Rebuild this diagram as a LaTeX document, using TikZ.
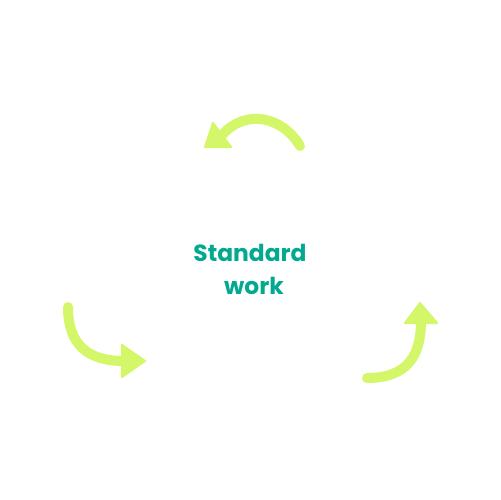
\documentclass[tikz,border=0pt]{standalone}
\usepackage{fontspec}
\setmainfont{Poppins}
\definecolor{lime}{HTML}{D4F76A}
\definecolor{teal}{HTML}{00A98F}
\begin{document}
\begin{tikzpicture}[x=0.02cm,y=-0.02cm,
  shaft/.style={draw=lime,line width=0.2cm,line cap=round},
  head/.style={fill=lime,draw=lime,line width=1.2pt,line join=round},
  label/.style={text=teal,font=\fontsize{13.3}{18}\selectfont\bfseries,inner sep=0pt,anchor=base}]
\useasboundingbox (0,0) rectangle (500,500);
% top arrow
\coordinate (t1) at (300,146);
\coordinate (t2) at (222,135);
\draw[shaft] (t1) .. controls (283,117) and (246,108) .. (t2);
\path[head] (213,123) -- (205,147) -- (231,147) -- cycle;
% bottom-left arrow
\coordinate (l1) at (68,307);
\coordinate (l2) at (124,361);
\draw[shaft] (l1) .. controls (68,345) and (88,361) .. (l2);
\path[head] (122,345) -- (145,361) -- (122,377) -- cycle;
% bottom-right arrow
\coordinate (r1) at (367,378);
\coordinate (r2) at (421,321);
\draw[shaft] (r1) .. controls (408,378) and (421,355) .. (r2);
\path[head] (405,323) -- (420,303) -- (437,323) -- cycle;
% text
\node[label] (s) at (250,261) {Standard};
\node[label] (w) at (254,294) {work};
\end{tikzpicture}
\end{document}
